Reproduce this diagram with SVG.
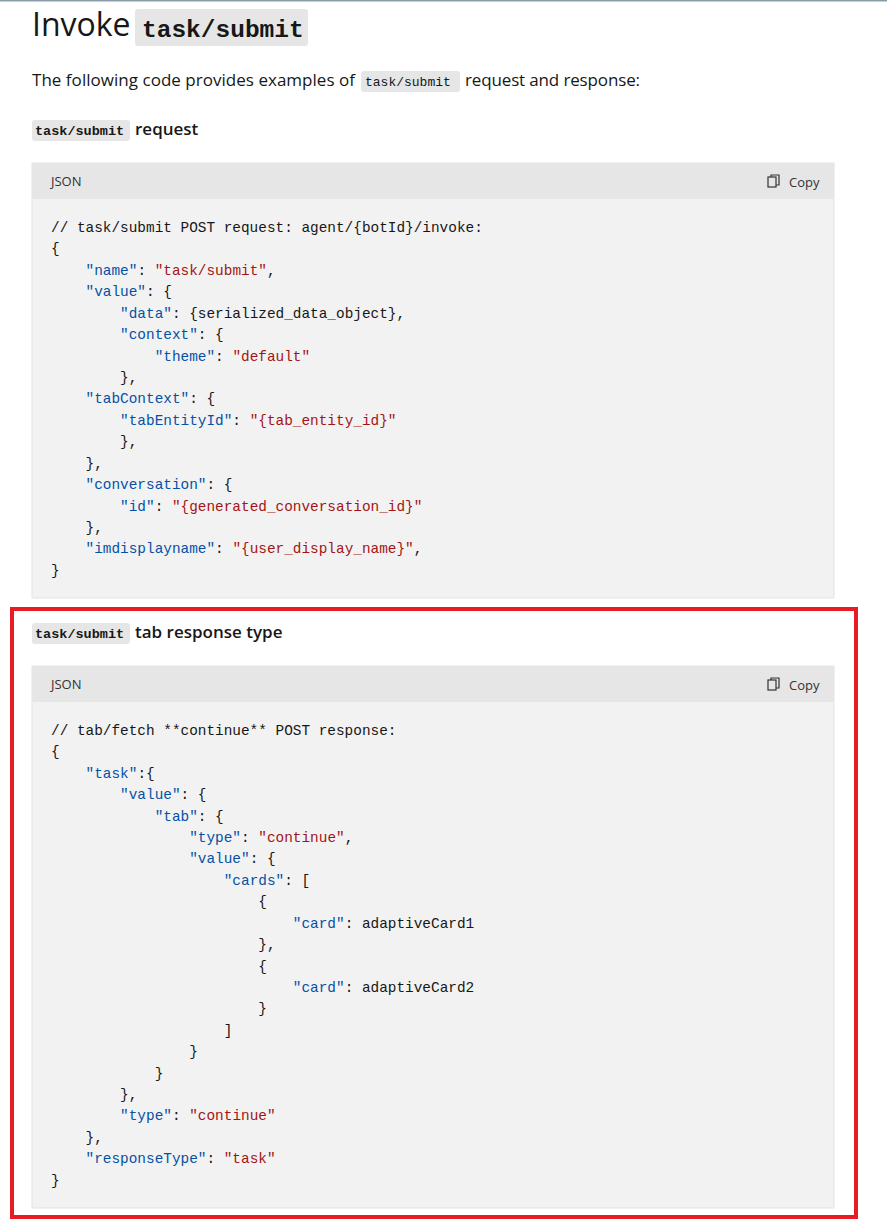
<svg xmlns="http://www.w3.org/2000/svg" width="887" height="1229" viewBox="0 0 887 1229">
<style>
.ui{font-family:"Open Sans","Noto Sans","Liberation Sans",sans-serif;fill:#171717}
.code{font-family:"Liberation Mono","DejaVu Sans Mono",monospace;font-size:14.4px;fill:#171717;white-space:pre}
.k{fill:#0451a5}.s{fill:#a31515}
.chip{fill:#e6e6e6}
.cb{font-family:"Liberation Mono","DejaVu Sans Mono",monospace;font-weight:bold;fill:#171717}
.hdr{fill:#e6e6e6}.body{fill:#f2f2f2}
.lbl{font-family:"Open Sans","Noto Sans","Liberation Sans",sans-serif;font-size:13px;fill:#333}
</style>
<rect width="887" height="1229" fill="#fff"/>
<rect width="887" height="1.5" fill="#8a9ba8"/>
<g id="title">
<text class="ui" x="32" y="36" font-size="32">Invoke</text>
<rect class="chip" x="135" y="9" width="173" height="37" rx="3"/>
<text class="cb" x="142" y="37" font-size="24.5">task/submit</text>
</g>
<g id="intro">
<text class="ui" x="32" y="86" font-size="17" textLength="323">The following code provides examples of</text>
<rect class="chip" x="361" y="71" width="99" height="21" rx="3"/>
<text class="code" x="365" y="86" style="font-size:13px">task/submit</text>
<text class="ui" x="465" y="86" font-size="17" textLength="175">request and response:</text>
</g>
<g id="h-request">
<rect class="chip" x="32" y="120" width="98" height="21" rx="3"/>
<text class="cb" x="35" y="135" font-size="13.5">task/submit</text>
<text class="ui" x="135" y="135" font-size="17" font-weight="600">request</text>
</g>
<g id="block1">
<rect class="body" x="32" y="163" width="802" height="435" stroke="#e3e3e3"/>
<rect class="hdr" x="32" y="163" width="802" height="36"/>
<text class="lbl" x="51" y="186">JSON</text>
<g fill="none" stroke="#333" stroke-width="1.2"><rect x="768" y="177" width="8" height="10"/><path d="M771 177v-2h8v10h-3"/></g>
<text class="lbl" x="789" y="187">Copy</text>
<text class="code" x="51" y="232">// task/submit POST request: agent/{botId}/invoke:</text>
<text class="code" x="51" y="253">{</text>
<text class="code" x="51" y="275">    <tspan class="k">"name"</tspan>: <tspan class="s">"task/submit"</tspan>,</text>
<text class="code" x="51" y="296">    <tspan class="k">"value"</tspan>: {</text>
<text class="code" x="51" y="318">        <tspan class="k">"data"</tspan>: {serialized_data_object},</text>
<text class="code" x="51" y="339">        <tspan class="k">"context"</tspan>: {</text>
<text class="code" x="51" y="361">            <tspan class="k">"theme"</tspan>: <tspan class="s">"default"</tspan></text>
<text class="code" x="51" y="382">        },</text>
<text class="code" x="51" y="403">    <tspan class="k">"tabContext"</tspan>: {</text>
<text class="code" x="51" y="425">        <tspan class="k">"tabEntityId"</tspan>: <tspan class="s">"{tab_entity_id}"</tspan></text>
<text class="code" x="51" y="446">        },</text>
<text class="code" x="51" y="468">    },</text>
<text class="code" x="51" y="489">    <tspan class="k">"conversation"</tspan>: {</text>
<text class="code" x="51" y="511">        <tspan class="k">"id"</tspan>: <tspan class="s">"{generated_conversation_id}"</tspan></text>
<text class="code" x="51" y="532">    },</text>
<text class="code" x="51" y="553">    <tspan class="k">"imdisplayname"</tspan>: <tspan class="s">"{user_display_name}"</tspan>,</text>
<text class="code" x="51" y="575">}</text>
</g>
<rect id="highlight" x="12" y="609" width="844" height="608" fill="none" stroke="#e81c24" stroke-width="4"/>
<g id="h-response">
<rect class="chip" x="32" y="623" width="98" height="21" rx="3"/>
<text class="cb" x="35" y="638" font-size="13.5">task/submit</text>
<text class="ui" x="135" y="638" font-size="17" font-weight="600">tab response type</text>
</g>
<g id="block2">
<rect class="body" x="32" y="666" width="802" height="542" stroke="#e3e3e3"/>
<rect class="hdr" x="32" y="666" width="802" height="36"/>
<text class="lbl" x="51" y="689">JSON</text>
<g fill="none" stroke="#333" stroke-width="1.2"><rect x="768" y="680" width="8" height="10"/><path d="M771 680v-2h8v10h-3"/></g>
<text class="lbl" x="789" y="690">Copy</text>
<text class="code" x="51" y="735">// tab/fetch **continue** POST response:</text>
<text class="code" x="51" y="756">{</text>
<text class="code" x="51" y="778">    <tspan class="k">"task"</tspan>:{</text>
<text class="code" x="51" y="799">        <tspan class="k">"value"</tspan>: {</text>
<text class="code" x="51" y="821">            <tspan class="k">"tab"</tspan>: {</text>
<text class="code" x="51" y="842">                <tspan class="k">"type"</tspan>: <tspan class="s">"continue"</tspan>,</text>
<text class="code" x="51" y="863">                <tspan class="k">"value"</tspan>: {</text>
<text class="code" x="51" y="885">                    <tspan class="k">"cards"</tspan>: [</text>
<text class="code" x="51" y="906">                        {</text>
<text class="code" x="51" y="928">                            <tspan class="k">"card"</tspan>: adaptiveCard1</text>
<text class="code" x="51" y="949">                        },</text>
<text class="code" x="51" y="971">                        {</text>
<text class="code" x="51" y="992">                            <tspan class="k">"card"</tspan>: adaptiveCard2</text>
<text class="code" x="51" y="1013">                        }</text>
<text class="code" x="51" y="1035">                    ]</text>
<text class="code" x="51" y="1056">                }</text>
<text class="code" x="51" y="1078">            }</text>
<text class="code" x="51" y="1099">        },</text>
<text class="code" x="51" y="1120">        <tspan class="k">"type"</tspan>: <tspan class="s">"continue"</tspan></text>
<text class="code" x="51" y="1142">    },</text>
<text class="code" x="51" y="1163">    <tspan class="k">"responseType"</tspan>: <tspan class="s">"task"</tspan></text>
<text class="code" x="51" y="1185">}</text>
</g>
</svg>
